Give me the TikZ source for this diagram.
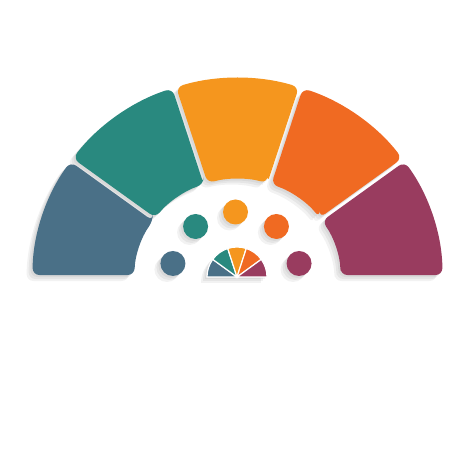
\documentclass[tikz,border=0pt]{standalone}
\usepackage{tikz}
\usetikzlibrary{calc,positioning}

\definecolor{segblue}{HTML}{4A7087}
\definecolor{segteal}{HTML}{29897F}
\definecolor{segorange}{HTML}{F5961E}
\definecolor{segred}{HTML}{F06A22}
\definecolor{segplum}{HTML}{993C5F}

\tikzset{
  shadowfill/.style={fill=black,fill opacity=0.05},
  dot/.style={circle,minimum size=25pt,inner sep=0pt},
}

% one ring piece: centre, start angle, end angle, half gap, style
\newcommand{\ringpiece}[5]{%
  \pgfmathsetmacro\gi{asin(#4/100)}%
  \pgfmathsetmacro\go{asin(#4/202)}%
  \path[#5,rounded corners=7pt] ($(#1)+({#2+\gi}:103 and 98)$) -- ($(#1)+({#2+\go}:205 and 199)$)
    arc[start angle=#2+\go, end angle=#3-\go, x radius=205, y radius=199]
    -- ($(#1)+({#3-\gi}:103 and 98)$)
    arc[start angle=#3-\gi, end angle=#2+\gi, x radius=103, y radius=98] -- cycle;
}
% one wedge of the small fan
\newcommand{\fanpiece}[3]{%
  \path[#3,draw=white,line width=1.2pt] (f) -- ($(f)+(#1:30)$)
    arc[start angle=#1, end angle=#2, radius=30] -- cycle;
}

\begin{document}
\begin{tikzpicture}[x=1pt,y=1pt]
    \useasboundingbox (0,0) rectangle (474,474);
    \fill[white] (0,0) rectangle (474,474);
    \coordinate (m) at (237.5,197);
    \coordinate (f) at (237,197);

    % soft shadows, a few layers
    \foreach \s in {2,4,6}{
      \coordinate (ms) at ($(m)+(-\s,-\s)$);
      \ringpiece{ms}{0}{36}{2}{shadowfill}
      \ringpiece{ms}{36}{72}{2}{shadowfill}
      \ringpiece{ms}{72}{108}{2}{shadowfill}
      \ringpiece{ms}{108}{144}{2}{shadowfill}
      \ringpiece{ms}{144}{180}{2}{shadowfill}
      \fill[shadowfill] ($(f)+(-30-\s,-\s)$) arc[start angle=180, end angle=0, radius=30] -- cycle;
      \foreach \a/\dx in {168/-1,129/-1,90/-2,51/-2,12/-2}
        \fill[shadowfill] ($(m)+(\a:65)+(\dx-\s,-\s)$) circle (12.5);
    }

    % big ring
    \ringpiece{m}{144}{180}{2}{fill=segblue}
    \ringpiece{m}{108}{144}{2}{fill=segteal}
    \ringpiece{m}{72}{108}{2}{fill=segorange}
    \ringpiece{m}{36}{72}{2}{fill=segred}
    \ringpiece{m}{0}{36}{2}{fill=segplum}

    % small dots
    \node[dot,fill=segblue]   (d1) at ($(m)+(168:65)+(-1,0)$) {};
    \node[dot,fill=segteal]   (d2) at ($(m)+(129:65)+(-1,0)$) {};
    \node[dot,fill=segorange] (d3) at ($(m)+(90:65)+(-2,0)$) {};
    \node[dot,fill=segred]    (d4) at ($(m)+(51:65)+(-2,0)$) {};
    \node[dot,fill=segplum]   (d5) at ($(m)+(12:65)+(-2,0)$) {};

    % small fan
    \fanpiece{144}{180}{fill=segblue}
    \fanpiece{108}{144}{fill=segteal}
    \fanpiece{72}{108}{fill=segorange}
    \fanpiece{36}{72}{fill=segred}
    \fanpiece{0}{36}{fill=segplum}
\end{tikzpicture}
\end{document}
